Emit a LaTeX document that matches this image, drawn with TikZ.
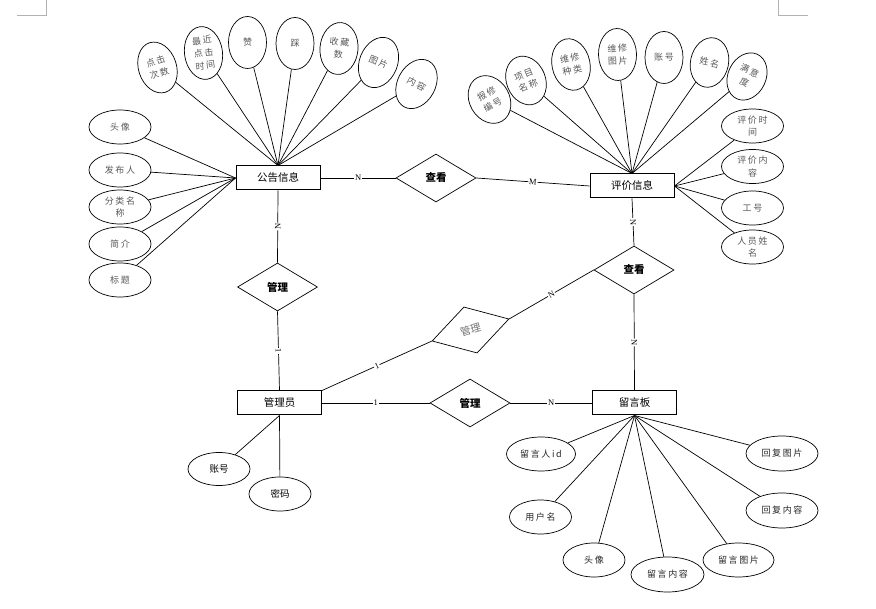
\documentclass[tikz,border=0pt]{standalone}
\usepackage{fontspec}
\setmainfont{Liberation Serif}
\newfontfamily\cjk{Noto Sans CJK SC}
\newfontfamily\cjka[LetterSpace=18]{Noto Sans CJK SC}
\usetikzlibrary{shapes.geometric}
\begin{document}
\begin{tikzpicture}[x=1pt,y=-1pt,
  entity/.style={draw, line width=1pt, minimum width=84pt, minimum height=24pt, inner sep=0pt, font=\cjk\fontsize{10.5}{12}\selectfont},
  rel/.style={draw, diamond, line width=0.7pt, minimum width=80pt, minimum height=48pt, inner sep=0pt, font=\cjk\bfseries\fontsize{10.5}{12}\selectfont},
  attr/.style={draw, ellipse, line width=0.7pt, inner sep=0pt, minimum width=62pt, minimum height=34pt, align=center, text=black!65, font=\cjka\fontsize{9}{12.5}\selectfont},
  vattr/.style={attr, minimum width=38pt, minimum height=52pt},
  dattr/.style={attr, text=black!85},
  conn/.style={line width=0.7pt},
  card/.style={fill=white, inner sep=0.8pt, font=\fontsize{8.5}{9}\selectfont, sloped, midway},
  pagemark/.style={draw=black!30, line width=0.7pt}
]
\useasboundingbox (0,0) rectangle (876,609);
\fill[white] (0,0) rectangle (876,609);
% page corner marks
\draw[pagemark] (17,15) -- (46,15) -- (46,0);
\draw[pagemark] (778,0) -- (778,15) -- (808,15);

% entities
\node[entity] (gg) at (278,178) {公告信息};
\node[entity] (pj) at (632,186) {评价信息};
\node[entity] (gly) at (279.5,403) {管理员};
\node[entity] (lyb) at (634.5,403) {留言板};

% relationships
\node[rel] (ck1) at (436,178) {查看};
\node[rel] (gl1) at (277.5,287) {管理};
\node[rel] (ck2) at (634,270) {查看};
\node[rel, rotate=16, text=black!55, font=\cjk\fontsize{10.5}{12}\selectfont] (gl2) at (470.5,330) {管理};
\node[rel] (gl3) at (470,403) {管理};

% attributes of 公告信息 (top)
\node[vattr, rotate=18] (a1) at (157.5,67.5) {点击\\次数};
\node[vattr, rotate=8, minimum height=53pt] (a2) at (203.5,53) {最近\\点击\\时间};
\node[vattr] (a3) at (247.5,42.5) {赞};
\node[vattr] (a4) at (295,43.5) {踩};
\node[vattr, rotate=-5] (a5) at (339,48.5) {收藏\\数};
\node[vattr, rotate=-22] (a6) at (378.5,62.5) {图片};
\node[vattr, rotate=-28] (a7) at (416.5,84) {内容};
% attributes of 公告信息 (left)
\node[attr] (b1) at (120,127) {头像};
\node[attr] (b2) at (120,170) {发布人};
\node[attr] (b3) at (120,207) {分类名\\称};
\node[attr] (b4) at (120,244) {简介};
\node[attr] (b5) at (120,280) {标题};

% attributes of 评价信息 (top)
\node[vattr, rotate=30, minimum width=40pt, minimum height=50pt] (c1) at (489.5,99.5) {报修\\编号};
\node[vattr, rotate=22, minimum width=39pt, minimum height=50pt] (c2) at (526,80.5) {项目\\名称};
\node[vattr, rotate=12] (c3) at (571,64.5) {维修\\种类};
\node[vattr, rotate=2] (c4) at (617.5,54.5) {维修\\图片};
\node[vattr] (c5) at (664,57.5) {账号};
\node[vattr, rotate=-12, minimum height=50pt] (c6) at (709.5,62.5) {姓名};
\node[vattr, rotate=-25, minimum height=49pt] (c7) at (747,76.5) {满意\\度};
% attributes of 评价信息 (right)
\node[attr] (d1) at (752.5,126) {评价时\\间};
\node[attr] (d2) at (752.5,166.5) {评价内\\容};
\node[attr] (d3) at (752.5,208) {工号};
\node[attr] (d4) at (752.5,247) {人员姓\\名};

% attributes of 管理员
\node[dattr, font=\cjk\fontsize{9.5}{12}\selectfont, text=black, minimum height=33pt] (e1) at (219,469) {账号};
\node[dattr, font=\cjk\fontsize{9.5}{12}\selectfont, text=black] (e2) at (280,494) {密码};

% attributes of 留言板
\node[dattr, minimum width=69pt] (f1) at (541,454) {留言人id};
\node[dattr] (f2) at (540.5,517) {用户名};
\node[dattr] (f3) at (594,560) {头像};
\node[dattr, minimum width=73pt, minimum height=35pt] (f4) at (667.5,574.5) {留言内容};
\node[dattr, minimum width=71pt] (f5) at (738.5,560) {留言图片};
\node[dattr, minimum width=72pt, minimum height=35pt] (f6) at (782,510.5) {回复内容};
\node[dattr, minimum width=72pt, minimum height=35pt] (f7) at (782,453.5) {回复图片};

% attribute connectors
\foreach \n in {a1,a2,a3,a4,a5,a6,a7} \draw[conn] (\n) -- (gg.north);
\foreach \n in {b1,b2,b3,b4,b5} \draw[conn] (\n) -- (gg.west);
\foreach \n in {c1,c2,c3,c4,c5,c6,c7} \draw[conn] (\n) -- (pj.north);
\foreach \n in {d1,d2,d3,d4} \draw[conn] (\n) -- (pj.east);
\foreach \n in {e1,e2} \draw[conn] (\n) -- (gly.south);
\foreach \n in {f1,f2,f3,f4,f5,f6,f7} \draw[conn] (\n) -- (lyb.south);

% relationship connectors
\draw[conn] (gg.east) -- node[card]{N} (ck1.west);
\draw[conn] (ck1.east) -- node[card]{M} (pj.west);
\draw[conn] (gg.south) -- node[card]{N} (gl1.north);
\draw[conn] (gl1.south) -- node[card]{1} (gly.north);
\draw[conn] (pj.south) -- node[card]{N} (ck2.north);
\draw[conn] (ck2.south) -- node[card]{N} (lyb.north);
\draw[conn] (ck2.west) -- node[card]{N} (gl2.east);
\draw[conn] (gly.north east) -- node[card]{1} (gl2.west);
\draw[conn] (gly.east) -- node[card]{1} (gl3.west);
\draw[conn] (gl3.east) -- node[card]{N} (lyb.west);
\end{tikzpicture}
\end{document}
